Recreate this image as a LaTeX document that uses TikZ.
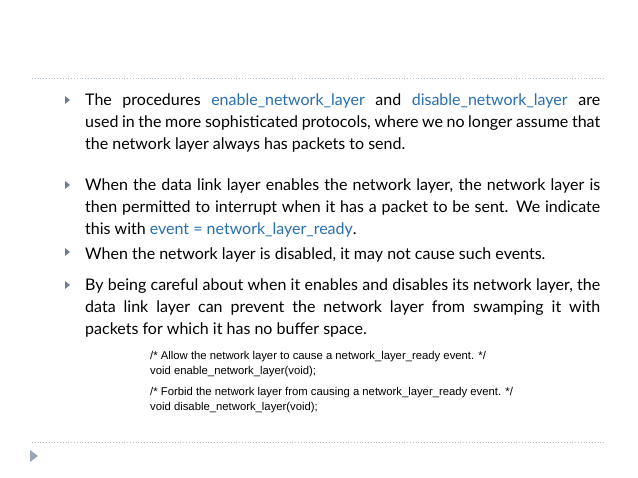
\documentclass[tikz,border=0pt]{standalone}
\usepackage{fontspec}
\setmainfont{Lato}
\newfontfamily\codefont{Liberation Sans}
\definecolor{hl}{RGB}{40,110,180}
\definecolor{bul}{RGB}{110,125,150}
\definecolor{dotc}{RGB}{175,190,200}
\begin{document}
\begin{tikzpicture}[x=1pt,y=-1pt,
  para/.style={anchor=base west,inner sep=0pt,text width=515pt,align=justify,font=\fontsize{16}{22}\selectfont},
  bulletmark/.style={fill=bul},
  code/.style={anchor=north west,inner sep=0pt,align=left,font=\codefont\fontsize{11.3}{15.5}\selectfont}]
\useasboundingbox (0,0) rectangle (638,478);
\draw[dotc,dotted,line width=0.8pt] (32,78) -- (605,78);
\draw[dotc,dotted,line width=0.8pt] (32,442) -- (605,442);
\fill[bul!70] (30,450) -- (38,456) -- (30,462) -- cycle;
\foreach \y in {100,185,252,285}{\fill[bulletmark] (65,\y-4) -- (70,\y) -- (65,\y+4) -- cycle;}
\node[para] (p1) at (85,106) {The procedures \textcolor{hl}{enable\_network\_layer} and \textcolor{hl}{disable\_network\_layer} are\linebreak used in the more sophisticated protocols, where we no longer assume that\linebreak the network layer always has packets to send.};
\node[para] (p2) at (85,191) {When the data link layer enables the network layer, the network layer is\linebreak then permitted to interrupt when it has a packet to be sent. We indicate\linebreak this with \textcolor{hl}{event = network\_layer\_ready}.};
\node[para] (p3) at (85,260) {When the network layer is disabled, it may not cause such events.};
\node[para] (p4) at (85,291) {By being careful about when it enables and disables its network layer, the\linebreak data link layer can prevent the network layer from swamping it with\linebreak packets for which it has no buffer space.};
\node[code] (c1) at (150,351) {/* Allow the network layer to cause a network\_layer\_ready event. */\\void enable\_network\_layer(void);};
\node[code] (c2) at (150,387) {/* Forbid the network layer from causing a network\_layer\_ready event. */\\void disable\_network\_layer(void);};
\end{tikzpicture}
\end{document}
